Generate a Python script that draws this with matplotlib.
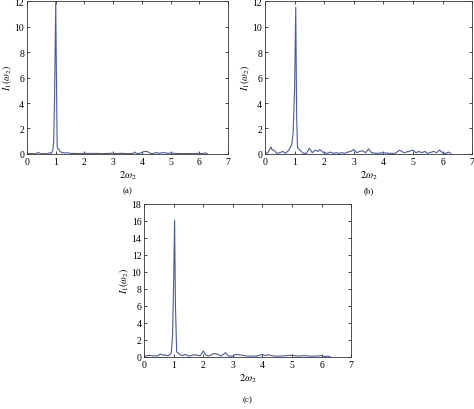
import matplotlib
matplotlib.use("Agg")
import matplotlib.pyplot as plt

plt.rcParams["font.family"] = ["Liberation Serif", "DejaVu Serif"]
plt.rcParams["mathtext.fontset"] = "stix"

# spectrum samples
xa = [0.0, 0.2, 0.3, 0.4, 0.45, 0.5, 0.6, 0.7, 0.8, 0.85, 0.9, 0.93, 0.96, 1.0, 1.02, 1.05, 1.08, 1.1,
      1.15, 1.2, 1.3, 1.4, 1.5, 1.7, 1.9, 2.0, 2.2, 2.4, 2.6, 2.8, 3.0, 3.1, 3.3, 3.5, 3.7, 3.75, 3.8, 3.9,
      4.0, 4.1, 4.2, 4.3, 4.4, 4.5, 4.6, 4.7, 4.8, 4.9, 5.0, 5.2, 5.4, 5.6, 5.8, 6.0, 6.1, 6.2, 6.28]
ya = [0.02, 0.03, 0.02, 0.12, 0.05, 0.02, 0.03, 0.02, 0.1, 0.05, 0.3, 1.0, 4.5, 11.9, 7.0, 0.6, 0.4, 0.4,
      0.2, 0.12, 0.08, 0.1, 0.05, 0.04, 0.03, 0.06, 0.04, 0.05, 0.03, 0.04, 0.06, 0.03, 0.05, 0.03, 0.05, 0.15, 0.06, 0.03,
      0.12, 0.2, 0.18, 0.05, 0.03, 0.12, 0.05, 0.1, 0.1, 0.05, 0.08, 0.04, 0.03, 0.04, 0.03, 0.06, 0.03, 0.08, 0.02]

xb = [0.0, 0.1, 0.2, 0.25, 0.3, 0.4, 0.5, 0.6, 0.7, 0.8, 0.9, 0.95, 1.0, 1.04, 1.07, 1.1, 1.2, 1.3,
      1.4, 1.5, 1.6, 1.7, 1.8, 1.85, 1.95, 2.1, 2.2, 2.3, 2.4, 2.5, 2.6, 2.7, 2.8, 2.9, 3.0, 3.1, 3.2,
      3.3, 3.4, 3.5, 3.6, 3.8, 4.0, 4.2, 4.4, 4.55, 4.7, 4.85, 5.0, 5.1, 5.2, 5.3, 5.4, 5.5, 5.7, 5.8, 5.9,
      6.0, 6.1, 6.2, 6.28]
yb = [0.05, 0.1, 0.55, 0.3, 0.3, 0.05, 0.1, 0.2, 0.05, 0.3, 0.7, 1.6, 5.0, 11.5, 3.0, 0.5, 0.25, 0.05,
      0.05, 0.45, 0.1, 0.3, 0.2, 0.35, 0.15, 0.05, 0.15, 0.05, 0.1, 0.05, 0.1, 0.05, 0.15, 0.2, 0.35, 0.1, 0.2,
      0.25, 0.1, 0.4, 0.1, 0.05, 0.1, 0.05, 0.05, 0.3, 0.1, 0.2, 0.3, 0.1, 0.2, 0.1, 0.2, 0.05, 0.2, 0.1, 0.3,
      0.1, 0.03, 0.15, 0.05]

xc = [0.0, 0.1, 0.2, 0.3, 0.35, 0.45, 0.55, 0.65, 0.7, 0.8, 0.85, 0.92, 0.96, 1.0, 1.03, 1.06, 1.1, 1.2,
      1.3, 1.4, 1.5, 1.7, 1.9, 2.0, 2.1, 2.2, 2.35, 2.5, 2.6, 2.75, 2.85, 3.0, 3.1, 3.3, 3.5, 3.8, 4.0, 4.1,
      4.2, 4.4, 4.6, 4.8, 5.0, 5.2, 5.4, 5.6, 5.8, 6.0, 6.1, 6.2, 6.28]
yc = [0.05, 0.15, 0.2, 0.1, 0.15, 0.1, 0.35, 0.2, 0.25, 0.15, 0.2, 0.5, 2.5, 9.0, 16.1, 6.0, 0.6, 0.3,
      0.15, 0.3, 0.1, 0.25, 0.15, 0.7, 0.2, 0.1, 0.4, 0.3, 0.1, 0.5, 0.1, 0.1, 0.3, 0.2, 0.1, 0.1, 0.3, 0.15,
      0.25, 0.1, 0.1, 0.15, 0.2, 0.1, 0.15, 0.1, 0.1, 0.15, 0.05, 0.1, 0.05]

panels = [
    (xa, ya, 12, [0, 2, 4, 6, 8, 10, 12], "(a)", -0.21),
    (xb, yb, 12, [0, 2, 4, 6, 8, 10, 12], "(b)", -0.21),
    (xc, yc, 18, [0, 2, 4, 6, 8, 10, 12, 14, 16, 18], "(c)", -0.25),
]
rects = [
    [0.057, 0.622, 0.424, 0.373],
    [0.559, 0.622, 0.437, 0.373],
    [0.304, 0.127, 0.437, 0.373],
]

fig = plt.figure(figsize=(4.74, 4.10), dpi=100)
line_color = "#4a5aa8"

for (x, y, ymax, yticks, tag, tag_y), rect in zip(panels, rects):
    ax = fig.add_axes(rect)
    ax.plot(x, y, color=line_color, linewidth=0.8)
    ax.set_xlim(0, 7)
    ax.set_ylim(0, ymax)
    ax.set_xticks(range(8))
    ax.set_yticks(yticks)
    ax.tick_params(direction="in", top=True, right=True, labelsize=7, length=2.5, width=0.5, pad=2)
    for s in ax.spines.values():
        s.set_linewidth(0.6)
        s.set_color("#333333")
    ax.set_xlabel(r"$2\omega_2$", fontsize=7.5, labelpad=2)
    ax.set_ylabel(r"$I_1(\omega_2)$", fontsize=7, labelpad=1)
    ax.yaxis.set_label_coords(-13.0 / (rect[2] * 474), 0.5)
    ax.text(0.5, tag_y, tag, transform=ax.transAxes, ha="center", va="top", fontsize=6.5)

fig.savefig("out.png", dpi=100)
